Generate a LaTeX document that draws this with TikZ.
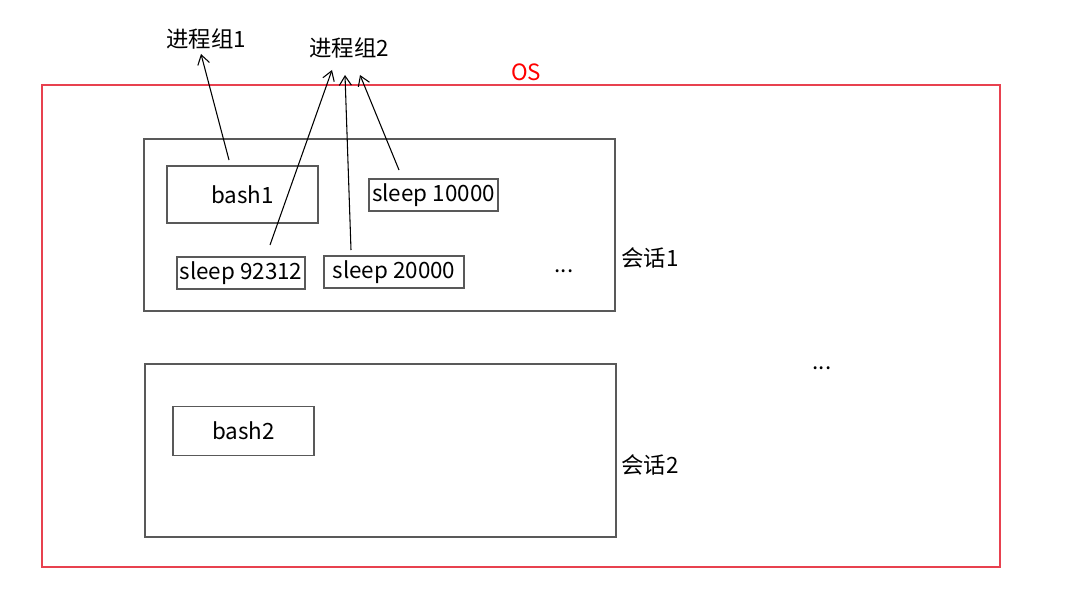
\documentclass[tikz,border=0pt]{standalone}
\usepackage{fontspec}
\setmainfont{Noto Sans CJK SC}
\usetikzlibrary{arrows.meta}
\definecolor{osred}{HTML}{E8414F}
\definecolor{ostext}{HTML}{FF0000}
\definecolor{boxgray}{HTML}{595959}
\begin{document}
\begin{tikzpicture}[x=0.75pt,y=-0.75pt,
  lbl/.style={inner sep=0pt, font=\fontsize{16.8pt}{19pt}\selectfont},
  proc/.style={draw=boxgray, line width=1.1pt, inner sep=0pt, font=\fontsize{16.8pt}{19pt}\selectfont},
  sess/.style={draw=boxgray, line width=1.1pt},
  link/.style={draw=black, line width=0.8pt, -{Straight Barb[length=7pt,width=9pt,line width=0.8pt]}}]
\useasboundingbox[fill=white] (0,0) rectangle (1066,606);
% OS
\draw[osred, line width=1.1pt] (42,85) rectangle (1000,567);
\node[lbl, text=ostext] (os) at (526,72) {OS};
% sessions
\draw[sess] (144,139) rectangle (615,311);
\draw[sess] (145,364) rectangle (616,537);
\node[lbl, anchor=west] (s1) at (621,258) {会话1};
\node[lbl, anchor=west] (s2) at (621,465) {会话2};
% processes
\node[proc, minimum width=151*0.75pt, minimum height=57*0.75pt] (bash1) at (242.5,194.5) {bash1};
\node[proc, minimum width=129*0.75pt, minimum height=32*0.75pt] (sl1) at (433.5,195) {sleep 10000};
\node[proc, minimum width=128*0.75pt, minimum height=32*0.75pt] (sl9) at (241,273) {sleep 92312};
\node[proc, minimum width=140*0.75pt, minimum height=32*0.75pt] (sl2) at (394,272) {sleep 20000};
\node[proc, minimum width=141*0.75pt, minimum height=49*0.75pt] (bash2) at (243.5,431) {bash2};
\node[lbl] (dots1) at (564,271) {...};
\node[lbl] (dots2) at (822,368) {...};
% groups
\node[lbl, anchor=west] (g1) at (166,39) {进程组1};
\node[lbl, anchor=west] (g2) at (309,48) {进程组2};
% arrow endpoints
\coordinate (a1s) at (229,160);
\coordinate (a1e) at (201,54);
\coordinate (a2s) at (270,245);
\coordinate (a2e) at (332,70);
\coordinate (a3s) at (351,250);
\coordinate (a3e) at (345,75);
\coordinate (a4s) at (399,170);
\coordinate (a4e) at (360,75);
\draw[link] (a1s) -- (a1e);
\draw[link] (a2s) -- (a2e);
\draw[link] (a3s) -- (a3e);
\draw[link] (a4s) -- (a4e);
\end{tikzpicture}
\end{document}
